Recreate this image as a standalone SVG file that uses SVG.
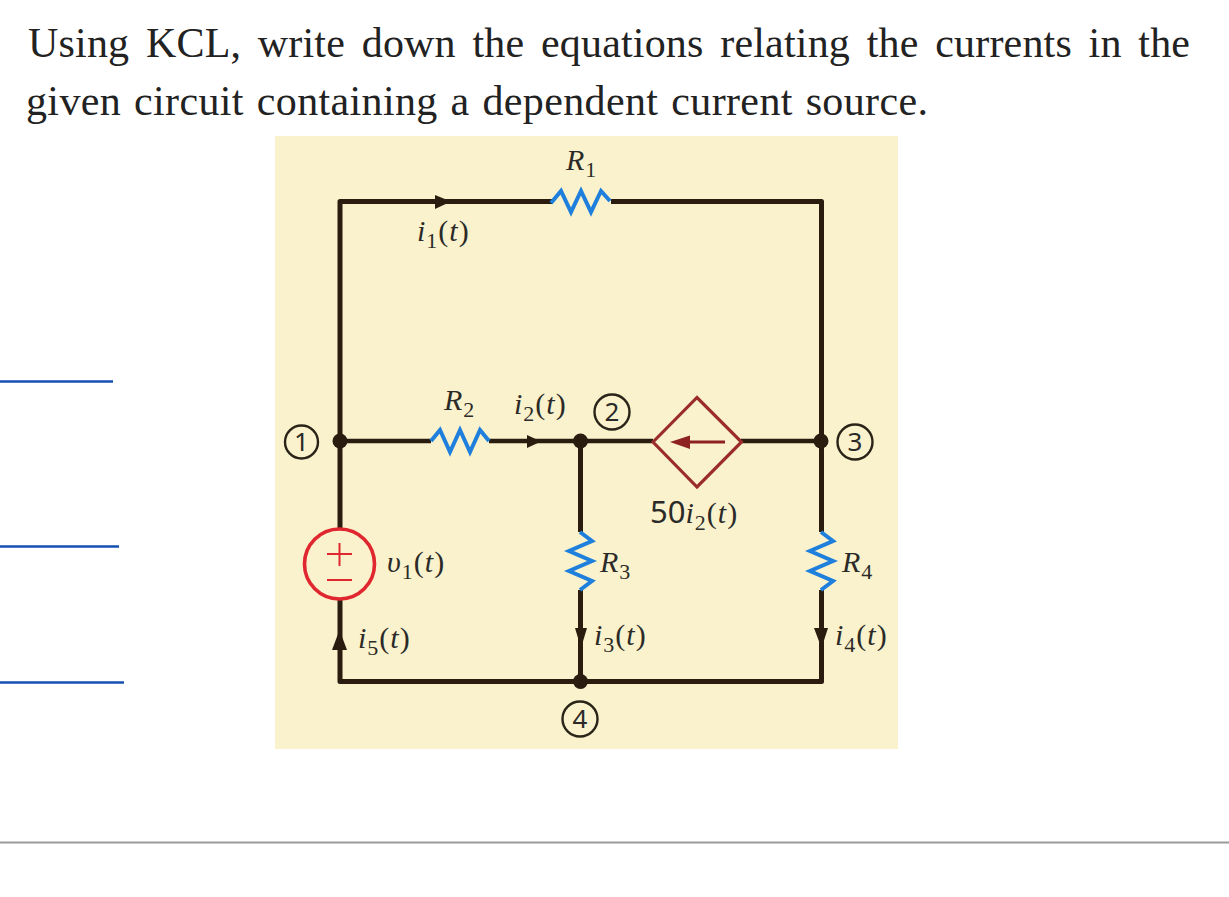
<svg xmlns="http://www.w3.org/2000/svg" width="1229" height="897" viewBox="0 0 1229 897">
<style>
.title{font-family:"Liberation Serif","Times New Roman",serif;font-size:42px;fill:#222;word-spacing:6px}
.tight{word-spacing:2px}
.lab{font-family:"Liberation Serif",serif;font-style:italic;font-size:30px;fill:#2b2a28;letter-spacing:1px}
.sub{font-size:22px;font-style:normal}
.up{font-style:normal}
.num{font-family:"Noto Sans","Liberation Sans",sans-serif;font-size:26px;fill:#2b2a28;text-anchor:middle}
.fifty{font-family:"Noto Sans","Liberation Sans",sans-serif;font-size:31px;fill:#2b2a28}
.wire{fill:none;stroke:#2a1d10;stroke-width:5;stroke-linejoin:round;stroke-linecap:butt}
.thin{stroke-width:4.500}
.res{fill:none;stroke:#1f7fdc;stroke-width:4;stroke-linejoin:miter}
.ring{fill:none;stroke:#2a2418;stroke-width:2.400}
.dot{fill:#2a1d10}
.blue{stroke:#1450b0;stroke-width:2.400}
.arrow{fill:#2a1d10}
</style>
<rect width="1229" height="897" fill="#fff"/>
<g id="heading">
<text class="title" x="28" y="57" textLength="1162" lengthAdjust="spacing">Using KCL, write down the equations relating the currents in the</text>
<text class="title tight" x="26" y="115" textLength="902" lengthAdjust="spacing">given circuit containing a dependent current source.</text>
</g>
<g id="answer-lines">
<line class="blue" x1="0" y1="381.500" x2="113" y2="381.500"/>
<line class="blue" x1="0" y1="546.500" x2="119" y2="546.500"/>
<line class="blue" x1="0" y1="682.500" x2="124" y2="682.500"/>
<line x1="0" y1="842.500" x2="1229" y2="842.500" stroke="#9a9a9a" stroke-width="2"/>
</g>
<rect id="panel" x="275" y="136" width="623" height="613" fill="#f9f2cc"/>
<g id="connectors">
<path class="wire" d="M552 201.500H340V529"/>
<path class="wire" d="M611 201.500H821.500V532"/>
<path class="wire" d="M340 600V681.500H821.500V590"/>
<path class="wire thin" d="M340 441H431"/>
<path class="wire thin" d="M489 441H653"/>
<path class="wire thin" d="M741 441H821.500"/>
<path class="wire" d="M580.500 441V532"/>
<path class="wire" d="M580.500 590V681.500"/>
<path class="arrow" d="M435 195L451 201.500L435 209Z"/>
<path class="arrow" d="M527 435L541 441.500L527 448Z"/>
<path class="arrow" d="M339.500 630L332 650H347Z"/>
<path class="arrow" d="M575 628H587L581 648Z"/>
<path class="arrow" d="M814 628H828L821.500 648Z"/>
</g>
<g id="R1"><path class="res" d="M551 203L561 191L571 212L581 191L591 212L601 191L610 201"/><text class="lab" x="566" y="170">R<tspan class="sub" dy="7">1</tspan></text></g>
<g id="R2"><path class="res" d="M431 441L440 430L450 452L460 430L470 452L480 430L489 441"/><text class="lab" x="444" y="410">R<tspan class="sub" dy="7">2</tspan></text></g>
<g id="R3"><path class="res" d="M580 532L592 541L569 551L592 561L569 571L592 581L580 590"/><text class="lab" x="600" y="572">R<tspan class="sub" dy="7">3</tspan></text></g>
<g id="R4"><path class="res" d="M821 532L833 541L810 551L833 561L810 571L833 581L821 590"/><text class="lab" x="842" y="572">R<tspan class="sub" dy="7">4</tspan></text></g>
<g id="V1">
<circle cx="339.500" cy="564" r="35" fill="#f9f2cc" stroke="#e0262e" stroke-width="3.600"/>
<path d="M327 554H352M339.500 543V566M327 580H352" fill="none" stroke="#e0262e" stroke-width="2"/>
<text class="lab" x="387" y="572">υ<tspan class="sub" dy="7">1</tspan><tspan class="up" dy="-7">(</tspan>t<tspan class="up">)</tspan></text>
</g>
<g id="source">
<path d="M653 442L697 397.500L741.500 442L697 487Z" fill="#f9f2cc" stroke="#9b2c2c" stroke-width="3.200"/>
<path d="M725 442H688" stroke="#8e2222" stroke-width="3"/>
<path d="M670 442L690 435.500V449Z" fill="#8e2222"/>
<text class="fifty" x="650" y="522.500">50<tspan class="lab">i</tspan><tspan class="lab sub" dy="7">2</tspan><tspan class="lab up" dy="-7">(</tspan><tspan class="lab">t</tspan><tspan class="lab up">)</tspan></text>
</g>
<g id="current-labels">
<text class="lab" x="417" y="241">i<tspan class="sub" dy="7">1</tspan><tspan class="up" dy="-7">(</tspan>t<tspan class="up">)</tspan></text>
<text class="lab" x="514" y="414">i<tspan class="sub" dy="7">2</tspan><tspan class="up" dy="-7">(</tspan>t<tspan class="up">)</tspan></text>
<text class="lab" x="594" y="645">i<tspan class="sub" dy="7">3</tspan><tspan class="up" dy="-7">(</tspan>t<tspan class="up">)</tspan></text>
<text class="lab" x="835" y="645">i<tspan class="sub" dy="7">4</tspan><tspan class="up" dy="-7">(</tspan>t<tspan class="up">)</tspan></text>
<text class="lab" x="358" y="648">i<tspan class="sub" dy="7">5</tspan><tspan class="up" dy="-7">(</tspan>t<tspan class="up">)</tspan></text>
</g>
<g id="node-1"><circle class="dot" cx="340" cy="441" r="7.500"/><circle class="ring" cx="301.500" cy="442" r="16.500"/><text class="num" x="301.500" y="451">1</text></g>
<g id="node-2"><circle class="dot" cx="580.500" cy="441" r="7.500"/><circle class="ring" cx="612" cy="412" r="17.500"/><text class="num" x="612" y="421">2</text></g>
<g id="node-3"><circle class="dot" cx="821" cy="441" r="7.500"/><circle class="ring" cx="855" cy="442" r="17.500"/><text class="num" x="855" y="451">3</text></g>
<g id="node-4"><circle class="dot" cx="580.500" cy="681.500" r="7.500"/><circle class="ring" cx="580" cy="719" r="17.500"/><text class="num" x="580" y="728">4</text></g>
</svg>
